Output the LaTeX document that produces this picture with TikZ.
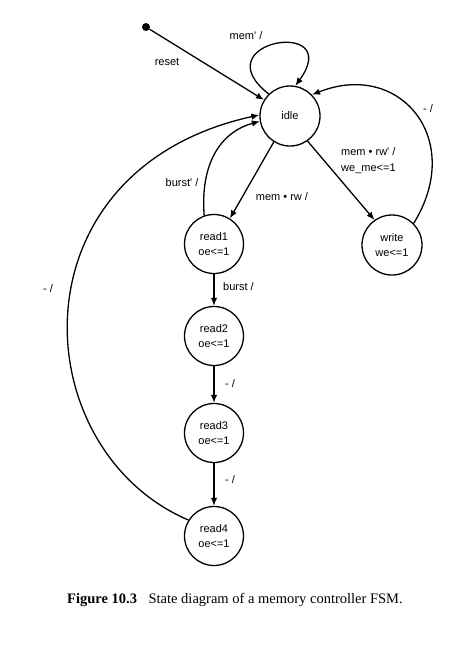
\documentclass[tikz,border=0pt]{standalone}
\usepackage{fontspec}
\setmainfont{Liberation Serif}
\newfontfamily\labfont{Liberation Sans}
\usetikzlibrary{arrows.meta}
\begin{document}
\begin{tikzpicture}[x=1pt,y=-1pt,
  state/.style={draw,circle,line width=1.3pt,minimum size=59pt,inner sep=0pt,align=center,
    font=\labfont\fontsize{11}{15}\selectfont},
  tr/.style={line width=1.3pt,-{Latex[length=8pt,width=6.5pt]}},
  lab/.style={font=\labfont\fontsize{11}{16}\selectfont,inner sep=0pt}]
\useasboundingbox (0,0) rectangle (468,657);
% states
\node[state,minimum size=60pt] (idle) at (290,116) {idle};
\node[state] (read1) at (214,244) {read1\\oe\textless=1};
\node[state] (read2) at (214,336) {read2\\oe\textless=1};
\node[state] (read3) at (214,433) {read3\\oe\textless=1};
\node[state] (read4) at (214,536) {read4\\oe\textless=1};
\node[state,minimum size=60pt] (write) at (392,245) {write\\we\textless=1};
\node[circle,fill,inner sep=0pt,minimum size=8pt] (init) at (146,27) {};
% transitions
\draw[tr] (init) -- (idle);
\draw[tr] (idle.134) .. controls +(-68,-53) and +(50,-69) .. (idle.80);
\draw[tr] (write.45) .. controls +(52,-84) and +(88,-35) .. (idle.44);
\draw[tr] (idle.305) -- (write.125);
\draw[tr] (idle.238) -- (read1.58);
\draw[tr] (read1.109) .. controls +(-4,-51) and +(-40,11) .. (idle.190);
\draw[tr] (read4.148) .. controls +(-164,-70) and +(-250,55) .. (idle.178);
\draw[tr] (read1) -- (read2);
\draw[tr] (read2) -- (read3);
\draw[tr] (read3) -- (read4);
% labels
\node[lab] (lreset) at (167,62) {reset};
\node[lab] (lloop) at (246,36) {mem\textquotesingle{} /};
\node[lab] (lwi) at (428,109) {- /};
\node[lab,anchor=west,align=left] (liw) at (341,161) {mem • rw\textquotesingle{} /\\we\_me\textless=1};
\node[lab] (lir) at (282,197) {mem • rw /};
\node[lab] (lri) at (182,183) {burst\textquotesingle{} /};
\node[lab] (lr4) at (48,289) {- /};
\node[lab,anchor=west] (lr12) at (223,287) {burst /};
\node[lab,anchor=west] (lr23) at (225,384) {- /};
\node[lab,anchor=west] (lr34) at (225,480) {- /};
% caption
\node[anchor=base west,inner sep=0pt,font=\fontsize{14.5}{17}\selectfont] (cap) at (67,603)
  {\textbf{Figure 10.3}\hspace{0.8em}State diagram of a memory controller FSM.};
\end{tikzpicture}
\end{document}
